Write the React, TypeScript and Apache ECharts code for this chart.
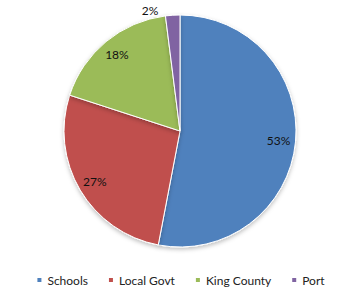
import React, { useEffect, useRef } from "react";
import * as echarts from "echarts";

const categories = ["Schools", "Local Govt", "King County", "Port"];
const values = [53, 27, 18, 2];
const colors = ["#4F81BD", "#C0504D", "#9BBB59", "#8064A2"];

export default function App() {
  const ref = useRef<HTMLDivElement>(null);
  useEffect(() => {
    if (!ref.current) return;
    const chart = echarts.init(ref.current, null, { renderer: "svg" });
    const data = categories.map((name, i) => ({ name, value: values[i] }));
    chart.setOption({
      animation: false,
      color: colors,
      textStyle: { fontFamily: "Lato" },
      legend: {
        data: categories,
        left: "center",
        top: 269,
        itemWidth: 6,
        itemHeight: 6,
        itemGap: 19,
        icon: "rect",
        textStyle: { fontFamily: "Lato", fontSize: 12, color: "#222", padding: [0, 0, 0, 0] },
      },
      series: [
        {
          type: "pie",
          center: [180, 131],
          radius: [0, 116],
          startAngle: 90,
          clockwise: true,
          label: { show: false },
          labelLine: { show: false },
          itemStyle: {
            borderColor: "#fff",
            borderWidth: 1,
            shadowBlur: 4,
            shadowOffsetY: 2,
            shadowColor: "rgba(0,0,0,0.25)",
          },
          emphasis: { disabled: true },
          data,
        },
        {
          type: "pie",
          center: [180, 131],
          radius: [76, 116],
          startAngle: 90,
          clockwise: true,
          silent: true,
          itemStyle: { color: "rgba(0,0,0,0)" },
          label: {
            show: true,
            position: "inside",
            formatter: "{c}%",
            fontFamily: "Lato",
            fontSize: 12,
            color: "#111",
          },
          labelLine: { show: false },
          emphasis: { disabled: true },
          data: data.map((d, i) =>
            i === 3
              ? {
                  ...d,
                  label: { position: "outside", distanceToLabelLine: 2 },
                  labelLine: { show: false, length: 5, length2: 12 },
                }
              : d
          ),
        },
      ],
    });
    return () => chart.dispose();
  }, []);
  return (
    <div
      ref={ref}
      style={{ position: "fixed", left: 0, top: 0, width: 360, height: 299, background: "#fff" }}
    />
  );
}
